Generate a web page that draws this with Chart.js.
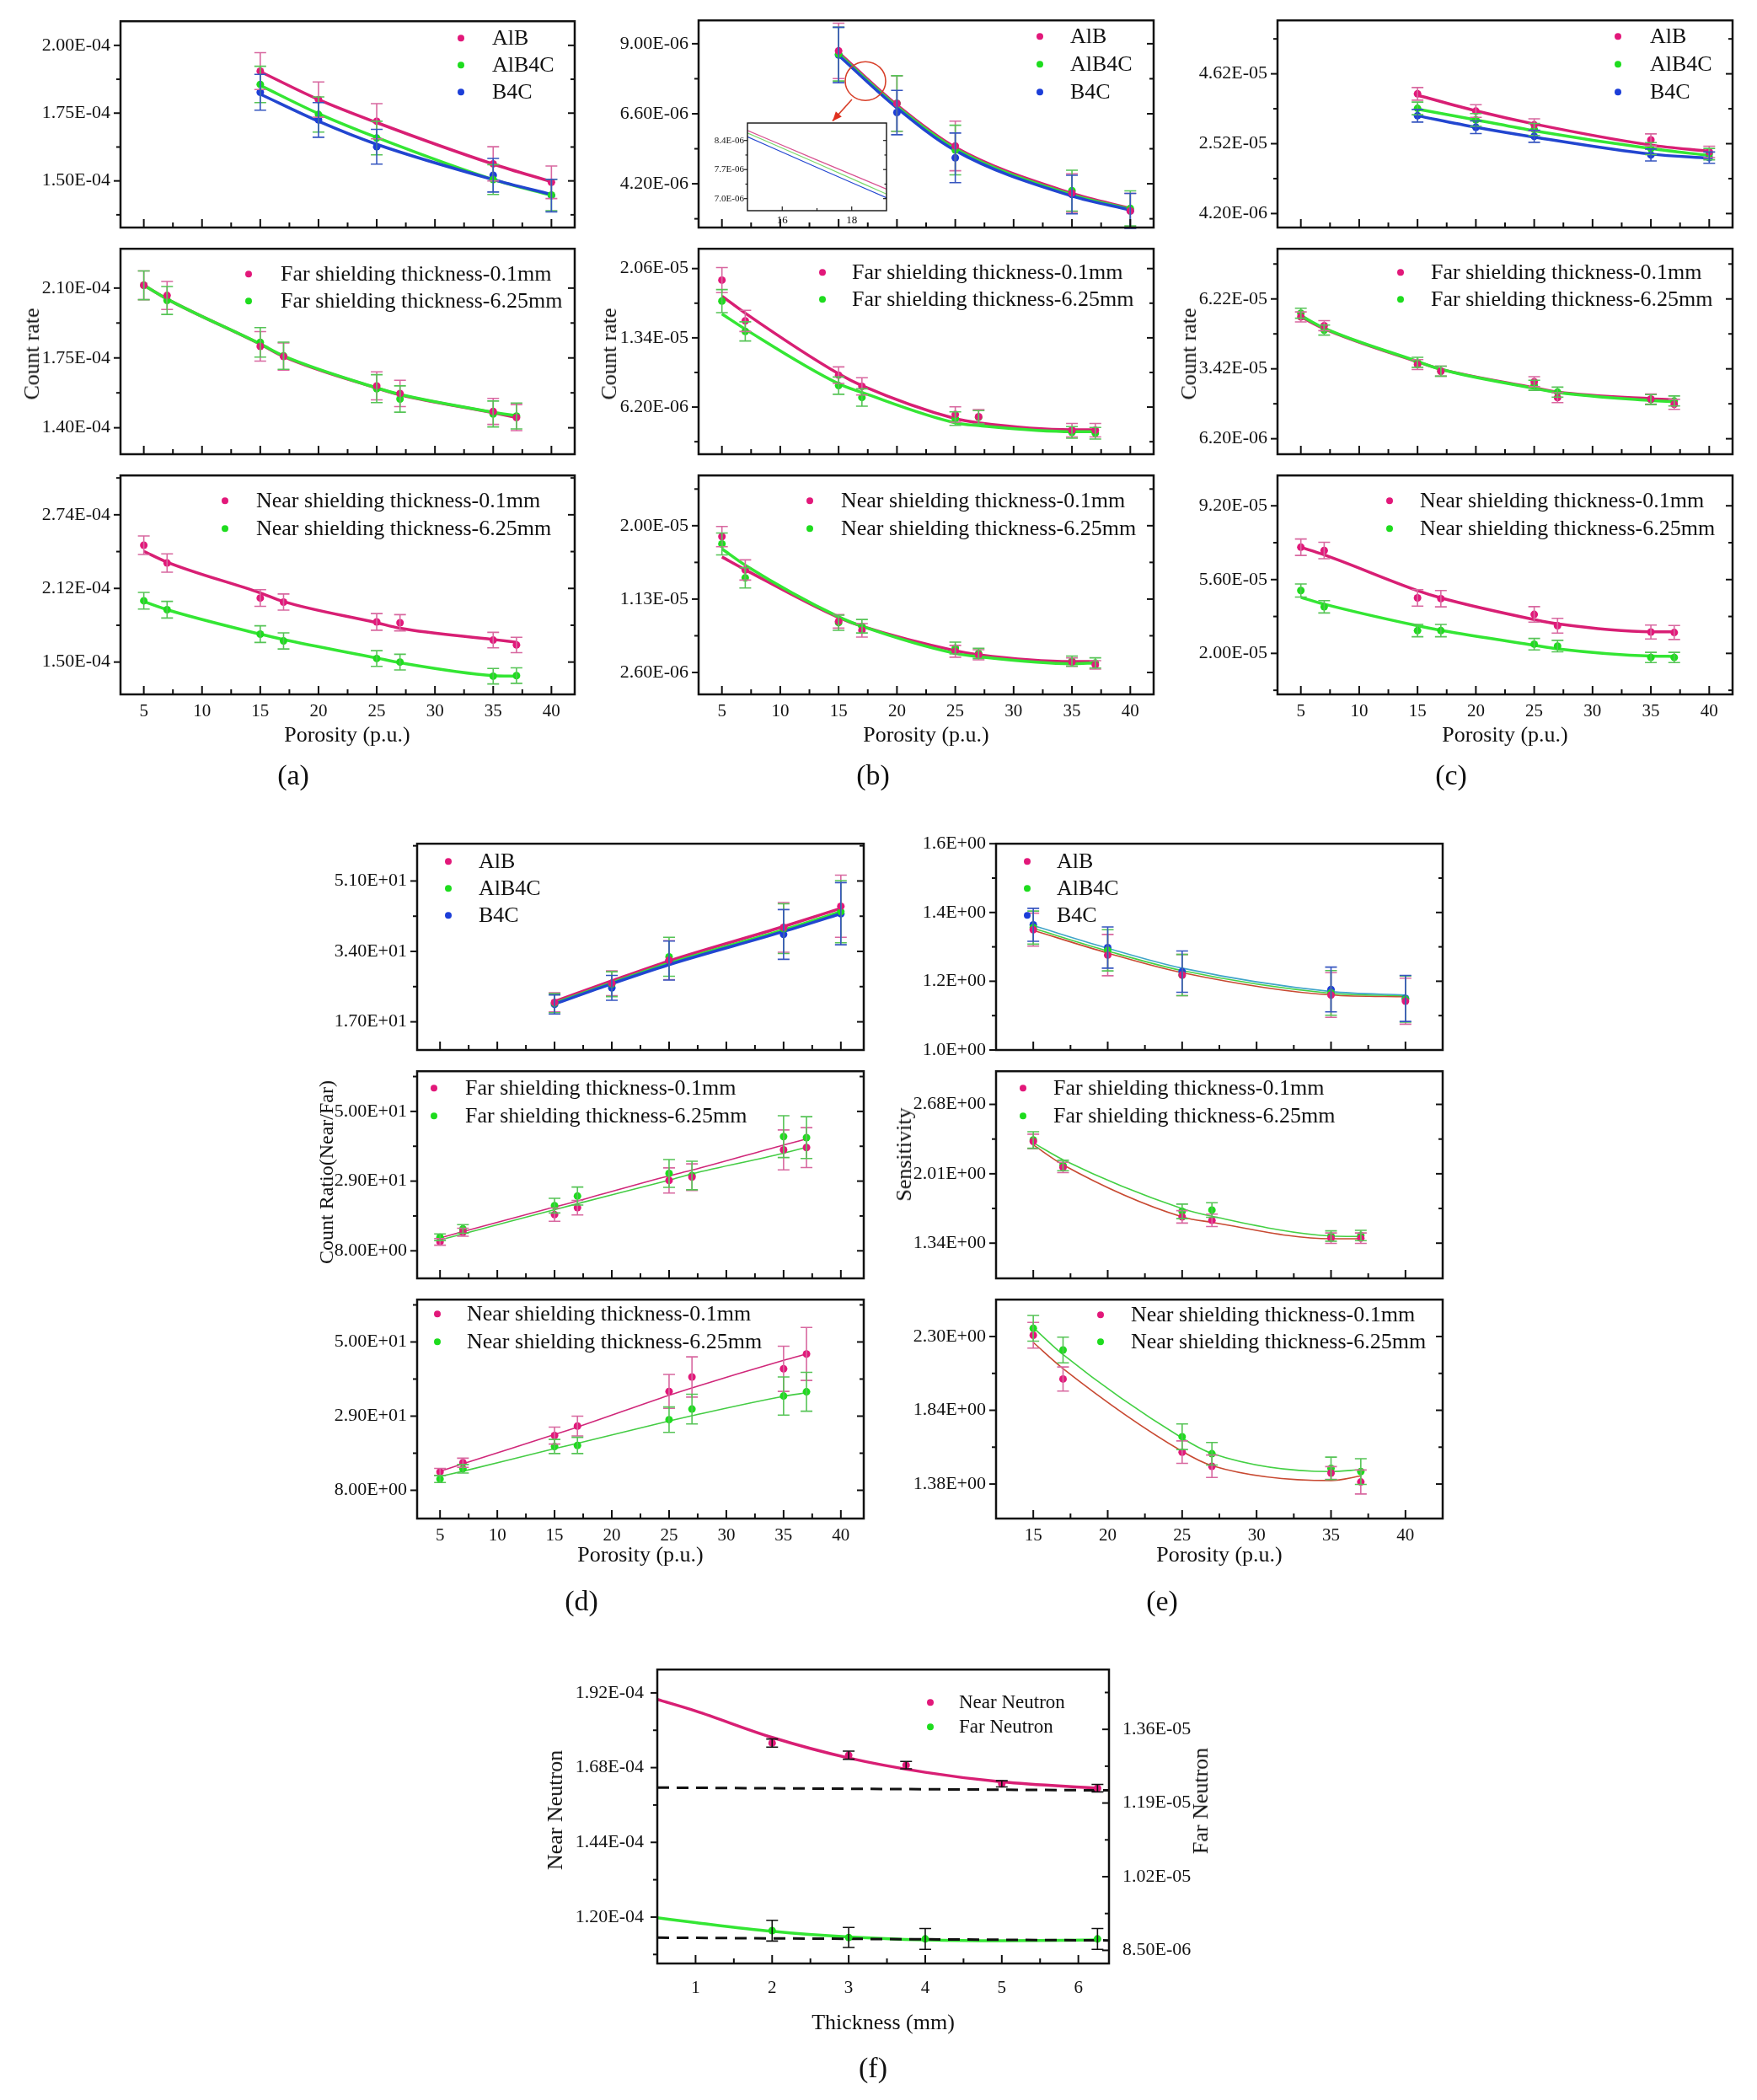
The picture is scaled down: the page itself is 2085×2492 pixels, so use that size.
<!DOCTYPE html>
<html>
<head>
<meta charset="utf-8">
<script src="https://cdn.jsdelivr.net/npm/chart.js@4.4.1/dist/chart.umd.min.js"></script>
<style>
  body { margin: 0; background: #fff; width: 2085px; height: 2492px; position: relative; overflow: hidden; }
</style>
</head>
<body>
<script>
// ---- x values ----
const poro = [5, 7, 15, 17, 25, 27, 35, 37];
const poroMat = [15, 20, 25, 35, 40];
const poroSens = [15, 17, 25, 27, 35, 37];
const thick = [2, 3, 3.75, 5, 6.25];
const thickFar = [2, 3, 4, 6.25];
const thickFit = [0.5, 1, 2, 3, 4, 5, 6.25];
const dashX = [0.5, 6.4];
const insetX = [15, 17, 19];

// ---- tick labels ----
const xPoro = [5, 10, 15, 20, 25, 30, 35, 40];
const xPoroMinor = [7.5, 12.5, 17.5, 22.5, 27.5, 32.5, 37.5];
const xSens = [15, 20, 25, 30, 35, 40];
const xSensMinor = [17.5, 22.5, 27.5, 32.5, 37.5];
const xThick = [1, 2, 3, 4, 5, 6];
const xThickMinor = [1.5, 2.5, 3.5, 4.5, 5.5];

// ---- (a) count rate, x1e-4 ----
const aMatAlB = [1.905, 1.800, 1.720, 1.563, 1.495];
const aMatAlB4C = [1.856, 1.745, 1.658, 1.505, 1.448];
const aMatB4C = [1.827, 1.725, 1.626, 1.521, 1.446];
const aMatAlBErr = [0.068, 0.065, 0.065, 0.063, 0.060];
const aMatAlB4CErr = [0.067, 0.065, 0.062, 0.055, 0.058];
const aMatB4CErr = [0.066, 0.064, 0.064, 0.062, 0.060];
const aMatAlBFit = [1.903, 1.800, 1.715, 1.562, 1.497];
const aMatAlB4CFit = [1.852, 1.748, 1.660, 1.505, 1.447];
const aMatB4CFit = [1.820, 1.720, 1.635, 1.505, 1.450];

const aFar01 = [2.114, 2.063, 1.808, 1.757, 1.610, 1.572, 1.482, 1.451];
const aFar625 = [2.114, 2.038, 1.828, 1.761, 1.596, 1.544, 1.469, 1.459];
const aFarErr = [0.072, 0.070, 0.074, 0.068, 0.070, 0.066, 0.065, 0.065];
const aFar01Fit = [2.114, 2.045, 1.819, 1.757, 1.599, 1.565, 1.475, 1.451];
const aFar625Fit = [2.114, 2.045, 1.820, 1.760, 1.600, 1.567, 1.478, 1.460];

const aNear01 = [2.484, 2.334, 2.039, 2.005, 1.838, 1.831, 1.685, 1.644];
const aNear625 = [2.016, 1.941, 1.735, 1.678, 1.530, 1.500, 1.381, 1.386];
const aNear01Err = [0.078, 0.077, 0.070, 0.068, 0.070, 0.068, 0.065, 0.065];
const aNear625Err = [0.070, 0.070, 0.070, 0.068, 0.066, 0.066, 0.065, 0.065];
const aNear01Fit = [2.432, 2.341, 2.082, 2.009, 1.831, 1.785, 1.690, 1.667];
const aNear625Fit = [2.009, 1.941, 1.735, 1.689, 1.534, 1.495, 1.386, 1.381];

// ---- (b) count rate, material x1e-6, far/near x1e-5 ----
const bMatAlB = [8.756, 6.952, 5.496, 3.880, 3.270];
const bMatAlB4C = [8.643, 6.952, 5.355, 3.965, 3.355];
const bMatB4C = [8.615, 6.642, 5.090, 3.830, 3.270];
const bMatAlBErr = [0.95, 0.95, 0.85, 0.66, 0.60];
const bMatAlB4CErr = [0.92, 0.95, 0.85, 0.70, 0.60];
const bMatB4CErr = [0.95, 0.76, 0.85, 0.66, 0.60];
const bMatAlBFit = [8.70, 6.90, 5.45, 3.87, 3.36];
const bMatAlB4CFit = [8.65, 6.85, 5.40, 3.82, 3.33];
const bMatB4CFit = [8.60, 6.80, 5.34, 3.78, 3.30];
const insetAlB = [8.64, 7.93, 7.23];
const insetAlB4C = [8.58, 7.85, 7.11];
const insetB4C = [8.49, 7.75, 7.02];

const bFar01 = [1.940, 1.516, 0.952, 0.835, 0.543, 0.520, 0.380, 0.380];
const bFar625 = [1.722, 1.407, 0.843, 0.720, 0.500, 0.514, 0.357, 0.348];
const bFar01Err = [0.13, 0.11, 0.086, 0.09, 0.08, 0.075, 0.07, 0.07];
const bFar625Err = [0.12, 0.10, 0.09, 0.09, 0.07, 0.07, 0.06, 0.06];
const bFar01Fit = [1.774, 1.596, 0.966, 0.843, 0.500, 0.457, 0.385, 0.385];
const bFar625Fit = [1.588, 1.430, 0.863, 0.772, 0.457, 0.428, 0.365, 0.365];

const bNear01 = [1.871, 1.475, 0.866, 0.760, 0.511, 0.470, 0.383, 0.350];
const bNear625 = [1.784, 1.381, 0.850, 0.808, 0.550, 0.486, 0.395, 0.373];
const bNear01Err = [0.12, 0.12, 0.08, 0.08, 0.07, 0.06, 0.05, 0.05];
const bNear625Err = [0.13, 0.12, 0.09, 0.08, 0.07, 0.06, 0.06, 0.06];
const bNear01Fit = [1.630, 1.478, 0.911, 0.808, 0.518, 0.470, 0.389, 0.389];
const bNear625Fit = [1.726, 1.532, 0.920, 0.808, 0.486, 0.447, 0.363, 0.373];

// ---- (c) count rate, x1e-5 ----
const cMatAlB = [4.019, 3.500, 3.088, 2.635, 2.273];
const cMatAlB4C = [3.582, 3.237, 2.948, 2.372, 2.207];
const cMatB4C = [3.360, 3.014, 2.742, 2.180, 2.100];
const cMatErr = [0.19, 0.19, 0.18, 0.18, 0.17];
const cMatAlBFit = [3.978, 3.508, 3.113, 2.479, 2.290];
const cMatAlB4CFit = [3.560, 3.237, 2.907, 2.372, 2.166];
const cMatB4CFit = [3.360, 3.014, 2.718, 2.207, 2.084];

const cFar01 = [5.502, 5.149, 3.591, 3.326, 2.906, 2.266, 2.211, 2.000];
const cFar625 = [5.646, 4.972, 3.680, 3.326, 2.763, 2.487, 2.188, 2.133];
const cFarErr = [0.20, 0.20, 0.20, 0.20, 0.20, 0.20, 0.20, 0.20];
const cFar01Fit = [5.502, 5.027, 3.702, 3.404, 2.663, 2.487, 2.222, 2.188];
const cFar625Fit = [5.550, 5.050, 3.720, 3.400, 2.640, 2.470, 2.150, 2.100];

const cNear01 = [7.179, 7.020, 4.708, 4.669, 3.902, 3.350, 3.044, 3.018];
const cNear625 = [5.065, 4.272, 3.110, 3.110, 2.449, 2.356, 1.802, 1.802];
const cNear01Err = [0.40, 0.40, 0.40, 0.40, 0.38, 0.36, 0.34, 0.34];
const cNear625Err = [0.32, 0.30, 0.30, 0.30, 0.28, 0.28, 0.25, 0.25];
const cNear01Fit = [7.179, 6.810, 5.065, 4.708, 3.651, 3.440, 3.057, 3.057];
const cNear625Fit = [4.735, 4.404, 3.347, 3.123, 2.396, 2.224, 1.868, 1.855];

// ---- (d) count ratio ----
const dMatAlB = [21.7, 26.3, 31.9, 39.8, 44.9];
const dMatAlB4C = [21.5, 26.1, 32.7, 39.5, 43.6];
const dMatB4C = [21.2, 25.2, 31.8, 38.1, 43.1];
const dMatErr = [2.3, 3.0, 4.7, 6.0, 7.5];
const dMatAlBFit = [21.9, 26.9, 31.7, 40.0, 44.4];
const dMatAlB4CFit = [21.5, 26.4, 31.1, 39.2, 43.6];
const dMatB4CFit = [21.3, 26.2, 30.8, 38.8, 43.1];

const dFar01 = [10.7, 13.6, 18.9, 21.0, 29.2, 30.2, 38.4, 39.1];
const dFar625 = [12.1, 14.6, 21.6, 24.5, 31.3, 30.7, 42.4, 42.1];
const dFar01Err = [1.0, 1.2, 2.0, 2.2, 3.8, 4.0, 6.0, 6.0];
const dFar625Err = [1.0, 1.3, 2.2, 2.7, 4.2, 4.3, 6.3, 6.3];
const dFar01Fit = [11.9, 13.8, 21.2, 23.0, 30.6, 32.3, 39.9, 41.7];
const dFar625Fit = [11.3, 13.1, 20.4, 22.2, 29.3, 31.2, 37.4, 39.2];

const dNear01 = [13.2, 15.8, 23.5, 26.2, 36.0, 40.1, 42.4, 46.6];
const dNear625 = [11.2, 14.1, 20.4, 20.7, 28.0, 31.0, 34.7, 35.9];
const dNear01Err = [1.0, 1.3, 2.4, 2.8, 4.8, 5.7, 6.4, 7.5];
const dNear625Err = [1.0, 1.2, 2.0, 2.3, 3.6, 4.2, 5.4, 5.5];
const dNear01Fit = [13.4, 15.5, 23.8, 25.9, 34.9, 37.0, 44.8, 46.6];
const dNear625Fit = [11.9, 13.4, 19.8, 21.3, 27.6, 29.1, 34.6, 35.6];

// ---- (e) sensitivity ----
const eMatAlB = [1.350, 1.276, 1.218, 1.160, 1.142];
const eMatAlB4C = [1.356, 1.290, 1.218, 1.166, 1.148];
const eMatB4C = [1.364, 1.298, 1.228, 1.176, 1.150];
const eMatErr = [0.048, 0.060, 0.060, 0.065, 0.067];
const eMatAlBFit = [1.348, 1.282, 1.225, 1.160, 1.155];
const eMatAlB4CFit = [1.354, 1.288, 1.231, 1.165, 1.158];
const eMatB4CFit = [1.362, 1.296, 1.238, 1.170, 1.160];

const eFar01 = [2.322, 2.071, 1.594, 1.560, 1.388, 1.388];
const eFar625 = [2.336, 2.090, 1.647, 1.660, 1.409, 1.414];
const eFar01Err = [0.07, 0.05, 0.06, 0.06, 0.05, 0.05];
const eFar625Err = [0.08, 0.05, 0.07, 0.07, 0.05, 0.05];
const eFar01Fit = [2.288, 2.097, 1.594, 1.541, 1.382, 1.382];
const eFar625Fit = [2.309, 2.145, 1.674, 1.600, 1.409, 1.404];

const eNear01 = [2.308, 2.035, 1.579, 1.491, 1.449, 1.393];
const eNear625 = [2.351, 2.216, 1.675, 1.569, 1.478, 1.458];
const eNear01Err = [0.08, 0.075, 0.07, 0.07, 0.04, 0.075];
const eNear625Err = [0.08, 0.08, 0.08, 0.07, 0.07, 0.08];
const eNear01Fit = [2.263, 2.100, 1.584, 1.495, 1.402, 1.430];
const eNear625Fit = [2.356, 2.187, 1.667, 1.571, 1.458, 1.470];

// ---- (f) thickness: near x1e-4 (left), far x1e-5 (right) ----
const fNear = [1.759, 1.720, 1.688, 1.628, 1.614];
const fNearErr = [0.013, 0.013, 0.012, 0.010, 0.012];
const fFar = [0.8955, 0.8797, 0.8764, 0.8764];
const fFarErr = [0.024, 0.023, 0.024, 0.024];
const fNearFit = [1.899, 1.862, 1.777, 1.711, 1.665, 1.634, 1.614];
const fFarFit = [0.925, 0.914, 0.894, 0.881, 0.874, 0.872, 0.874];
const fDashUpper = [1.616, 1.607];
const fDashLower = [1.134, 1.125];

// ---- style ----
const FONT = '"Liberation Serif", "Times New Roman", serif';
const MAG = '#e2187a', GRN = '#1edc1e', BLU = '#1c3ed8';
const MAG_E = '#d868a0', GRN_E = '#56c456', BLU_E = '#3656c0';
const MAG_L = '#d81f74', GRN_L = '#34e634', BLU_L = '#2246d0';
const RED_T = '#c84a32', GRN_T = '#44d044', CYA_T = '#3fa4c8';

function fmtE(v, d) {
    const [m, e] = v.toExponential(d).split('e');
    const n = parseInt(e, 10);
    return m + 'E' + (n < 0 ? '-' : '+') + String(Math.abs(n)).padStart(2, '0');
}

function pts(xs, ys, color, errs, errColor, axis) {
    return {
        data: xs.map((x, i) => ({ x, y: ys[i] })),
        showLine: false, pointRadius: 4.5, pointBorderWidth: 0,
        pointBackgroundColor: color, backgroundColor: color,
        errs, errColor, yAxisID: axis || 'y'
    };
}

function fit(xs, ys, color, lw, axis, dash) {
    return {
        data: xs.map((x, i) => ({ x, y: ys[i] })),
        showLine: true, pointRadius: 0, borderColor: color, borderWidth: lw,
        cubicInterpolationMode: 'monotone', borderDash: dash || [], yAxisID: axis || 'y'
    };
}

// box, inward ticks on bottom/right, outward on left
const frame = {
    id: 'frame',
    beforeDatasetsDraw(chart, args, o) {
        if (!o.white) return;
        const a = chart.chartArea;
        chart.ctx.save();
        chart.ctx.fillStyle = '#fff';
        chart.ctx.fillRect(a.left, a.top, a.right - a.left, a.bottom - a.top);
        chart.ctx.restore();
    },
    afterDraw(chart, args, o) {
        const { ctx, chartArea: a, scales } = chart;
        const tl = o.tl || 10;
        ctx.save();
        ctx.strokeStyle = '#111';
        ctx.lineWidth = o.lw || 2.5;
        ctx.strokeRect(a.left, a.top, a.right - a.left, a.bottom - a.top);
        ctx.lineWidth = (o.lw || 2.5) * 0.8;
        const line = (x0, y0, x1, y1) => { ctx.beginPath(); ctx.moveTo(x0, y0); ctx.lineTo(x1, y1); ctx.stroke(); };
        (o.xMaj || []).forEach(v => { const p = scales.x.getPixelForValue(v); line(p, a.bottom, p, a.bottom - tl); });
        (o.xMin || []).forEach(v => { const p = scales.x.getPixelForValue(v); line(p, a.bottom, p, a.bottom - tl * 0.6); });
        const ys = scales.y, yr = scales.y2 || scales.y;
        (o.yMaj || []).forEach(v => { const p = ys.getPixelForValue(v); line(a.left, p, a.left - tl * 0.8, p); });
        (o.yMin || []).forEach(v => { const p = ys.getPixelForValue(v); line(a.left, p, a.left - tl * 0.5, p); });
        const rMaj = o.y2Maj || o.yMaj || [], rMin = o.y2Min || o.yMin || [];
        rMaj.forEach(v => { const p = yr.getPixelForValue(v); if (p > a.top + 1 && p < a.bottom - 1) line(a.right, p, a.right - tl * 0.8, p); });
        rMin.forEach(v => { const p = yr.getPixelForValue(v); if (p > a.top + 1 && p < a.bottom - 1) line(a.right, p, a.right - tl * 0.5, p); });
        ctx.restore();
    }
};

const errBars = {
    id: 'errBars',
    afterDatasetsDraw(chart) {
        const ctx = chart.ctx;
        chart.data.datasets.forEach(ds => {
            if (!ds.errs) return;
            const xs = chart.scales.x, ys = chart.scales[ds.yAxisID || 'y'];
            ctx.save();
            ctx.strokeStyle = ds.errColor;
            ctx.lineWidth = 1.6;
            ds.data.forEach((p, j) => {
                const px = xs.getPixelForValue(p.x);
                const top = ys.getPixelForValue(p.y + ds.errs[j]);
                const bot = ys.getPixelForValue(p.y - ds.errs[j]);
                ctx.beginPath();
                ctx.moveTo(px, top); ctx.lineTo(px, bot);
                ctx.moveTo(px - 7, top); ctx.lineTo(px + 7, top);
                ctx.moveTo(px - 7, bot); ctx.lineTo(px + 7, bot);
                ctx.stroke();
            });
            ctx.restore();
        });
    }
};

const keyPlug = {
    id: 'key',
    afterDraw(chart, args, o) {
        if (!o.items) return;
        const { ctx, chartArea: a } = chart;
        ctx.save();
        ctx.font = (o.size || 26) + 'px ' + FONT;
        ctx.textBaseline = 'middle';
        o.items.forEach((it, i) => {
            const y = a.top + o.y0 + i * o.dy;
            ctx.fillStyle = it.color;
            ctx.beginPath(); ctx.arc(a.left + o.mx, y, 4, 0, 2 * Math.PI); ctx.fill();
            ctx.fillStyle = '#111';
            ctx.fillText(it.text, a.left + o.tx, y + 1);
        });
        ctx.restore();
    }
};

// red circle + arrow pointing to the inset in (b)
const markPlug = {
    id: 'mark',
    afterDatasetsDraw(chart, args, o) {
        if (o.cx === undefined) return;
        const { ctx, scales: { x, y } } = chart;
        const cx = x.getPixelForValue(o.cx), cy = y.getPixelForValue(o.cy);
        const x0 = x.getPixelForValue(o.x0), y0 = y.getPixelForValue(o.y0);
        const x1 = x.getPixelForValue(o.x1), y1 = y.getPixelForValue(o.y1);
        ctx.save();
        ctx.strokeStyle = '#d8402a'; ctx.fillStyle = '#e0301e'; ctx.lineWidth = 1.6;
        ctx.beginPath(); ctx.ellipse(cx, cy, o.rx, o.ry, 0, 0, 2 * Math.PI); ctx.stroke();
        ctx.beginPath(); ctx.moveTo(x0, y0); ctx.lineTo(x1, y1); ctx.stroke();
        const ang = Math.atan2(y1 - y0, x1 - x0);
        ctx.beginPath(); ctx.moveTo(x1, y1);
        ctx.lineTo(x1 - 12 * Math.cos(ang - 0.4), y1 - 12 * Math.sin(ang - 0.4));
        ctx.lineTo(x1 - 12 * Math.cos(ang + 0.4), y1 - 12 * Math.sin(ang + 0.4));
        ctx.closePath(); ctx.fill();
        ctx.restore();
    }
};

function plot(o) {
    const ax = o.ax || 130, pr = o.pr || 18, pt = 16;
    const pb = o.showX ? (o.xh || 44) : 16;
    const [l, t, r, b] = o.box;
    const w = r - l + ax + pr, h = b - t + pt + pb;
    const cv = document.createElement('canvas');
    cv.width = w; cv.height = h;
    cv.style.cssText = `position:absolute;left:${l - ax}px;top:${t - pt}px;width:${w}px;height:${h}px`;
    document.body.appendChild(cv);
    const fs = o.fs || 22;
    const yScale = (min, max, maj, unit, dig, pos) => ({
        type: 'linear', position: pos, min, max,
        grid: { display: false, drawTicks: false }, border: { display: false },
        ticks: { font: { family: FONT, size: fs }, color: '#111', padding: o.tpad || 12, autoSkip: false,
                 callback: v => fmtE(v * unit, dig) },
        afterBuildTicks: s => { s.ticks = maj.map(v => ({ value: v })); },
        afterFit: s => { s.width = pos === 'right' ? pr : ax; }
    });
    const scales = {
        x: {
            type: 'linear', min: o.xr[0], max: o.xr[1], display: !!o.showX,
            grid: { display: false, drawTicks: false }, border: { display: false },
            ticks: { font: { family: FONT, size: o.xfs || 21 }, color: '#111', padding: o.xpad || 8, autoSkip: false, maxRotation: 0 },
            afterBuildTicks: s => { s.ticks = o.xMaj.map(v => ({ value: v })); },
            afterFit: s => { s.height = pb; }
        },
        y: yScale(o.yr[0], o.yr[1], o.yMaj, o.unit, o.dig, 'left')
    };
    if (o.y2r) scales.y2 = yScale(o.y2r[0], o.y2r[1], o.y2Maj, o.unit2, o.dig2, 'right');
    return new Chart(cv, {
        type: 'scatter',
        data: { datasets: o.sets },
        options: {
            responsive: false, animation: false, devicePixelRatio: 1,
            layout: { padding: { left: 0, right: o.y2r ? 0 : pr, top: pt, bottom: o.showX ? 0 : pb } },
            plugins: {
                legend: { display: false }, tooltip: { enabled: false },
                frame: { xMaj: o.xMaj, xMin: o.xMin, yMaj: o.yMaj, yMin: o.yMin, y2Maj: o.y2Maj, y2Min: o.y2Min,
                         lw: o.lw, tl: o.tl, white: o.white },
                key: o.key || {},
                mark: o.mark || {}
            },
            scales
        },
        plugins: [frame, errBars, keyPlug, markPlug]
    });
}

function label(text, x, y, size, rot) {
    const d = document.createElement('div');
    d.textContent = text;
    d.style.cssText = `position:absolute;left:${x}px;top:${y}px;font-size:${size}px;font-family:${FONT};color:#111;` +
        `white-space:nowrap;line-height:1;transform:translate(-50%,-50%)${rot ? ' rotate(-90deg)' : ''}`;
    document.body.appendChild(d);
}

const matKey = items => ({ mx: 404, tx: 441, y0: 20, dy: 32, items });
const MAT_ITEMS = [{ text: 'AlB', color: MAG }, { text: 'AlB4C', color: GRN }, { text: 'B4C', color: BLU }];
const farItems = [{ text: 'Far shielding thickness-0.1mm', color: MAG }, { text: 'Far shielding thickness-6.25mm', color: GRN }];
const nearItems = [{ text: 'Near shielding thickness-0.1mm', color: MAG }, { text: 'Near shielding thickness-6.25mm', color: GRN }];

function matSets(x, al, alE, ab, abE, b4, b4E, alF, abF, b4F, lw, cols) {
    const c = cols || [MAG_L, GRN_L, BLU_L];
    return [
        pts(x, al, MAG, alE, MAG_E), pts(x, ab, GRN, abE, GRN_E), pts(x, b4, BLU, b4E, BLU_E),
        fit(x, b4F, c[2], lw), fit(x, abF, c[1], lw), fit(x, alF, c[0], lw)
    ];
}
function pairSets(x, m, mE, g, gE, mF, gF, lw, cols) {
    const c = cols || [MAG_L, GRN_L];
    return [pts(x, m, MAG, mE, MAG_E), pts(x, g, GRN, gE, GRN_E), fit(x, gF, c[1], lw), fit(x, mF, c[0], lw)];
}

// ---------- panel (a) ----------
const AX_ = [143, 682];
plot({ box: [AX_[0], 16, AX_[1], 286], xr: [3, 42], xMaj: xPoro, xMin: xPoroMinor,
    yr: [1.328, 2.089], yMaj: [1.50, 1.75, 2.00], yMin: [1.375, 1.625, 1.875], unit: 1e-4, dig: 2,
    key: matKey(MAT_ITEMS),
    sets: matSets(poroMat, aMatAlB, aMatAlBErr, aMatAlB4C, aMatAlB4CErr, aMatB4C, aMatB4CErr, aMatAlBFit, aMatAlB4CFit, aMatB4CFit, 3.5) });
plot({ box: [AX_[0], 286, AX_[1], 555], xr: [3, 42], xMaj: xPoro, xMin: xPoroMinor,
    yr: [1.2675, 2.297], yMaj: [1.40, 1.75, 2.10], yMin: [1.575, 1.925], unit: 1e-4, dig: 2,
    key: { mx: 152, tx: 190, y0: 30, dy: 32, items: farItems },
    sets: pairSets(poro, aFar01, aFarErr, aFar625, aFarErr, aFar01Fit, aFar625Fit, 3.5) });
plot({ box: [AX_[0], 555, AX_[1], 824], xr: [3, 42], xMaj: xPoro, xMin: xPoroMinor, showX: true,
    yr: [1.228, 3.071], yMaj: [1.50, 2.12, 2.74], yMin: [1.81, 2.43, 3.05], unit: 1e-4, dig: 2,
    key: { mx: 124, tx: 161, y0: 30, dy: 33, items: nearItems },
    sets: pairSets(poro, aNear01, aNear01Err, aNear625, aNear625Err, aNear01Fit, aNear625Fit, 3.5) });

// ---------- panel (b) ----------
const BX = [829, 1369];
plot({ box: [BX[0], 15, BX[1], 286], xr: [3, 42], xMaj: xPoro, xMin: xPoroMinor,
    yr: [2.70, 9.80], yMaj: [4.2, 6.6, 9.0], yMin: [3.0, 5.4, 7.8], unit: 1e-6, dig: 2,
    key: { mx: 405, tx: 441, y0: 19, dy: 33, items: MAT_ITEMS },
    mark: { cx: 17.3, cy: 7.72, rx: 24, ry: 23, x0: 16.14, y0: 7.09, x1: 14.48, y1: 6.35 },
    sets: matSets(poroMat, bMatAlB, bMatAlBErr, bMatAlB4C, bMatAlB4CErr, bMatB4C, bMatB4CErr, bMatAlBFit, bMatAlB4CFit, bMatB4CFit, 3.5) });
plot({ box: [887, 146, 1052, 250], ax: 50, pr: 6, xr: [15, 19], xMaj: [16, 18], xMin: [17], showX: true, xh: 24,
    yr: [6.71, 8.82], yMaj: [7.0, 7.7, 8.4], yMin: [7.35, 8.05], unit: 1e-6, dig: 1,
    fs: 11, xfs: 13, tpad: 4, xpad: 4, lw: 1.4, tl: 5, white: true,
    sets: [fit(insetX, insetB4C, BLU_L, 1.2), fit(insetX, insetAlB4C, '#7ad86a', 1.2), fit(insetX, insetAlB, '#d85090', 1.2)] });
plot({ box: [BX[0], 286, BX[1], 555], xr: [3, 42], xMaj: xPoro, xMin: xPoroMinor,
    yr: [0.13, 2.266], yMaj: [0.62, 1.34, 2.06], yMin: [0.26, 0.98, 1.70], unit: 1e-5, dig: 2,
    key: { mx: 147, tx: 182, y0: 28, dy: 32, items: farItems },
    sets: pairSets(poro, bFar01, bFar01Err, bFar625, bFar625Err, bFar01Fit, bFar625Fit, 3.5) });
plot({ box: [BX[0], 555, BX[1], 824], xr: [3, 42], xMaj: xPoro, xMin: xPoroMinor, showX: true,
    yr: [0, 2.596], yMaj: [0.26, 1.13, 2.00], yMin: [0.695, 1.565, 2.435], unit: 1e-5, dig: 2,
    key: { mx: 132, tx: 169, y0: 30, dy: 33, items: nearItems },
    sets: pairSets(poro, bNear01, bNear01Err, bNear625, bNear625Err, bNear01Fit, bNear625Fit, 3.5) });

// ---------- panel (c) ----------
const CX = [1516, 2056];
plot({ box: [CX[0], 15, CX[1], 286], xr: [3, 42], xMaj: xPoro, xMin: xPoroMinor,
    yr: [0, 6.226], yMaj: [0.42, 2.52, 4.62], yMin: [1.47, 3.57, 5.67], unit: 1e-5, dig: 2,
    key: { mx: 404, tx: 442, y0: 19, dy: 33, items: MAT_ITEMS },
    sets: matSets(poroMat, cMatAlB, cMatErr, cMatAlB4C, cMatErr, cMatB4C, cMatErr, cMatAlBFit, cMatAlB4CFit, cMatB4CFit, 3.5) });
plot({ box: [CX[0], 286, CX[1], 555], xr: [3, 42], xMaj: xPoro, xMin: xPoroMinor,
    yr: [0, 8.23], yMaj: [0.62, 3.42, 6.22], yMin: [2.02, 4.82, 7.62], unit: 1e-5, dig: 2,
    key: { mx: 146, tx: 182, y0: 28, dy: 32, items: farItems },
    sets: pairSets(poro, cFar01, cFarErr, cFar625, cFarErr, cFar01Fit, cFar625Fit, 3.5) });
plot({ box: [CX[0], 555, CX[1], 824], xr: [3, 42], xMaj: xPoro, xMin: xPoroMinor, showX: true,
    yr: [0, 10.68], yMaj: [2.0, 5.6, 9.2], yMin: [0.2, 3.8, 7.4], unit: 1e-5, dig: 2,
    key: { mx: 133, tx: 169, y0: 30, dy: 33, items: nearItems },
    sets: pairSets(poro, cNear01, cNear01Err, cNear625, cNear625Err, cNear01Fit, cNear625Fit, 3.5) });

// ---------- panel (d) ----------
const DX = [495, 1025];
plot({ box: [DX[0], 992, DX[1], 1262], xr: [3, 42], xMaj: xPoro, xMin: xPoroMinor,
    yr: [10.2, 60], yMaj: [17, 34, 51], yMin: [25.5, 42.5, 59.5], unit: 1, dig: 2,
    key: { mx: 37, tx: 73, y0: 21, dy: 32, items: MAT_ITEMS },
    sets: matSets(poroMat, dMatAlB, dMatErr, dMatAlB4C, dMatErr, dMatB4C, dMatErr, dMatAlBFit, dMatAlB4CFit, dMatB4CFit, 3.5) });
plot({ box: [DX[0], 1262, DX[1], 1533], xr: [3, 42], xMaj: xPoro, xMin: xPoroMinor,
    yr: [-0.3, 62.1], yMaj: [8, 29, 50], yMin: [18.5, 39.5, 60.5], unit: 1, dig: 2,
    key: { mx: 20, tx: 57, y0: 20, dy: 33, items: farItems },
    sets: pairSets(poro, dFar01, dFar01Err, dFar625, dFar625Err, dFar01Fit, dFar625Fit, 1.6, ['#d0287a', '#44cc44']) });
plot({ box: [DX[0], 1533, DX[1], 1802], xr: [3, 42], xMaj: xPoro, xMin: xPoroMinor, showX: true,
    yr: [0, 62], yMaj: [8, 29, 50], yMin: [18.5, 39.5, 60.5], unit: 1, dig: 2,
    key: { mx: 24, tx: 59, y0: 17, dy: 33, items: nearItems },
    sets: pairSets(poro, dNear01, dNear01Err, dNear625, dNear625Err, dNear01Fit, dNear625Fit, 1.6, ['#d0287a', '#44cc44']) });

// ---------- panel (e) ----------
const EX = [1182, 1712];
plot({ box: [EX[0], 992, EX[1], 1262], xr: [12.5, 42.5], xMaj: xSens, xMin: xSensMinor,
    yr: [1.0, 1.6], yMaj: [1.0, 1.2, 1.4, 1.6], yMin: [1.1, 1.3, 1.5], unit: 1, dig: 1,
    key: { mx: 37, tx: 72, y0: 21, dy: 32, items: MAT_ITEMS },
    sets: matSets(poroMat, eMatAlB, eMatErr, eMatAlB4C, eMatErr, eMatB4C, eMatErr, eMatAlBFit, eMatAlB4CFit, eMatB4CFit, 1.6, [RED_T, GRN_T, CYA_T]) });
plot({ box: [EX[0], 1262, EX[1], 1533], xr: [12.5, 42.5], xMaj: xSens, xMin: xSensMinor,
    yr: [1.0, 3.0], yMaj: [1.34, 2.01, 2.68], yMin: [1.675, 2.345], unit: 1, dig: 2,
    key: { mx: 32, tx: 68, y0: 20, dy: 33, items: farItems },
    sets: pairSets(poroSens, eFar01, eFar01Err, eFar625, eFar625Err, eFar01Fit, eFar625Fit, 1.6, [RED_T, GRN_T]) });
plot({ box: [EX[0], 1533, EX[1], 1802], xr: [12.5, 42.5], xMaj: xSens, xMin: xSensMinor, showX: true,
    yr: [1.165, 2.53], yMaj: [1.38, 1.84, 2.30], yMin: [1.61, 2.07], unit: 1, dig: 2,
    key: { mx: 124, tx: 160, y0: 18, dy: 32, items: nearItems },
    sets: pairSets(poroSens, eNear01, eNear01Err, eNear625, eNear625Err, eNear01Fit, eNear625Fit, 1.6, [RED_T, GRN_T]) });

// ---------- panel (f) ----------
plot({ box: [780, 1968, 1316, 2330], pr: 130, xr: [0.5, 6.4], xMaj: xThick, xMin: xThickMinor, showX: true, xpad: 17, xh: 60,
    yr: [1.051, 1.995], yMaj: [1.20, 1.44, 1.68, 1.92], yMin: [1.08, 1.32, 1.56, 1.80], unit: 1e-4, dig: 2, tpad: 16,
    y2r: [0.8197, 1.498], y2Maj: [0.85, 1.02, 1.19, 1.36], y2Min: [0.935, 1.105, 1.275, 1.445], unit2: 1e-5, dig2: 2,
    key: { mx: 324, tx: 358, y0: 39, dy: 29, size: 23, items: [{ text: 'Near Neutron', color: MAG }, { text: 'Far Neutron', color: GRN }] },
    sets: [
        pts(thick, fNear, MAG, fNearErr, '#111'),
        pts(thickFar, fFar, GRN, fFarErr, '#111', 'y2'),
        fit(dashX, fDashUpper, '#111', 3, 'y', [14, 9]),
        fit(dashX, fDashLower, '#111', 3, 'y', [14, 9]),
        fit(thickFit, fFarFit, GRN_L, 3.5, 'y2'),
        fit(thickFit, fNearFit, MAG_L, 3.5)
    ] });

// ---------- text ----------
label('Count rate', 38, 420, 26, true);
label('Count rate', 723, 420, 26, true);
label('Count rate', 1411, 420, 26, true);
label('Count Ratio(Near/Far)', 387, 1391, 24, true);
label('Sensitivity', 1073, 1370, 26, true);
label('Porosity (p.u.)', 412, 872, 26);
label('Porosity (p.u.)', 1099, 872, 26);
label('Porosity (p.u.)', 1786, 872, 26);
label('Porosity (p.u.)', 760, 1845, 26);
label('Porosity (p.u.)', 1447, 1845, 26);
label('Near Neutron', 659, 2148, 26, true);
label('Far Neutron', 1425, 2137, 26, true);
label('Thickness (mm)', 1048, 2400, 26);
label('(a)', 348, 920, 34);
label('(b)', 1036, 920, 34);
label('(c)', 1722, 920, 34);
label('(d)', 690, 1900, 34);
label('(e)', 1379, 1900, 34);
label('(f)', 1036, 2454, 34);
</script>
</body>
</html>
